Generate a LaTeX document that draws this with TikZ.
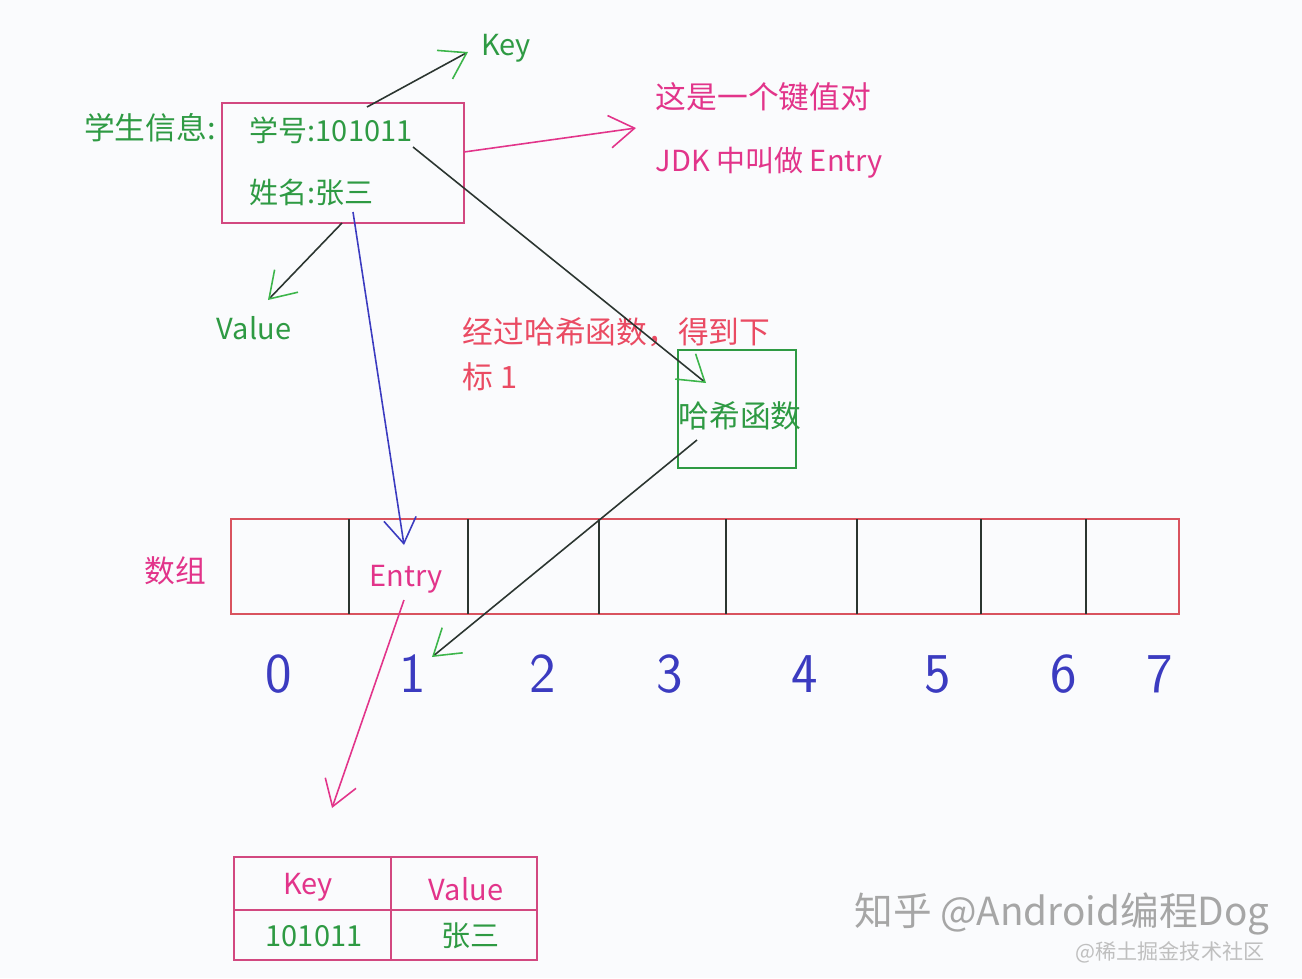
\documentclass[tikz,border=0pt]{standalone}
\usepackage{fontspec}
\setmainfont{Noto Sans CJK SC}
\usepackage{xcolor}
\usetikzlibrary{arrows.meta}

\definecolor{lbgreen}{HTML}{2E9A43}
\definecolor{lbpink}{HTML}{E2348A}
\definecolor{lbred}{HTML}{EA4B63}
\definecolor{lbline}{HTML}{2B3530}
\definecolor{lbblue}{HTML}{3B3BC0}
\definecolor{tipgreen}{HTML}{3CB54A}
\definecolor{boxpink}{HTML}{D24880}
\definecolor{arrred}{HTML}{D9535F}
\definecolor{paper}{HTML}{FAFBFD}

\begin{document}
\begin{tikzpicture}[x=0.02cm, y=-0.02cm, line width=0.9pt,
    txt/.style={draw=none, inner sep=0pt, font=\fontsize{16.5}{18}\selectfont},
    bigtxt/.style={draw=none, inner sep=0pt, font=\fontsize{17.5}{19}\selectfont},
    digit/.style={draw=none, inner sep=0pt, text=lbblue, font=\sffamily\fontsize{32}{32}\selectfont},
    frame/.style={draw=#1, inner sep=0pt},
    barb/.style={-{Straight Barb[length=5mm, width=6.5mm, color=#1]}},
    barb/.default=tipgreen]
             \fill[paper] (0,0) rectangle (1302,978);
             \useasboundingbox (0,0) rectangle (1302,978);

             % student record
             \node[frame=boxpink, minimum width=4.84cm, minimum height=2.4cm] (stu) at (343,163) {};
             \node[bigtxt, text=lbgreen] (stulabel) at (150,128) {学生信息:};
             \node[txt, text=lbgreen, anchor=west] (sid) at (249,130) {学号:101011};
             \node[txt, text=lbgreen, anchor=west] (sname) at (249,193) {姓名:张三};
             \node[txt, text=lbgreen] (key) at (506,48) {Key};
             \node[txt, text=lbgreen] (value) at (254,328) {Value};

             \node[bigtxt, text=lbpink, anchor=west] (pair) at (655,97) {这是一个键值对};
             \node[txt, text=lbpink, anchor=west] (jdk) at (655,163) {JDK 中叫做 Entry};

             \node[bigtxt, text=lbred, anchor=west] (hashtxt) at (462,332) {经过哈希函数，得到下};
             \node[bigtxt, text=lbred, anchor=west] (hashtxt2) at (462,377) {标 1};
             \node[frame=lbgreen, minimum width=2.36cm, minimum height=2.36cm] (hash) at (737,409) {};
             \node[bigtxt, text=lbgreen] (hashname) at (740,416) {哈希函数};

             % array
             \node[frame=arrred, minimum width=18.96cm, minimum height=1.9cm] (arr) at (705,566.5) {};
             \foreach \x in {349,468,599,726,857,981,1086}
                 \draw[lbline] (\x,519) -- (\x,614);
             \node[bigtxt, text=lbpink] (arrlabel) at (175,571) {数组};
             \node[txt, text=lbpink] (entry) at (406,579) {Entry};
             \foreach \d/\x in {0/279,1/413,2/543,3/670,4/805,5/938,6/1064,7/1160}
                 \node[digit] (idx\d) at (\x,674) {\d};

             % entry table
             \node[frame=boxpink, minimum width=6.06cm, minimum height=2.06cm] (kv) at (385.5,908.5) {};
             \draw[boxpink] (234,910) -- (537,910);
             \draw[boxpink] (391,857) -- (391,960);
             \node[txt, text=lbpink] (kvkey) at (308,887) {Key};
             \node[txt, text=lbpink] (kvval) at (466,889) {Value};
             \node[txt, text=lbgreen] (kvid) at (314,936) {101011};
             \node[txt, text=lbgreen] (kvname) at (470,936) {张三};

             \node[draw=none, inner sep=0pt, text=black!35, font=\fontsize{22}{24}\selectfont] (mark) at (1062,914) {知乎 @Android编程Dog};
             \node[draw=none, inner sep=0pt, text=black!25, font=\fontsize{12}{13}\selectfont] (mark2) at (1170,952) {@稀土掘金技术社区};

             % arrows
             \coordinate (keyfrom) at (367,107);
             \coordinate (keyto) at (468,52);
             \coordinate (valfrom) at (342,223);
             \coordinate (valto) at (268,300);
             \coordinate (pairfrom) at (464,152);
             \coordinate (pairto) at (636,128);
             \coordinate (hashfrom) at (413,147);
             \coordinate (hashto) at (706,383);
             \coordinate (outfrom) at (697,440);
             \coordinate (outto) at (432,657);
             \coordinate (putfrom) at (353,212);
             \coordinate (putto) at (404,545);
             \coordinate (entfrom) at (404,600);
             \coordinate (entto) at (332,808);

             \draw[lbline, barb] (keyfrom) -- (keyto);
             \draw[lbline, barb] (valfrom) -- (valto);
             \draw[lbpink, barb=lbpink] (pairfrom) -- (pairto);
             \draw[lbline, barb] (hashfrom) -- (hashto);
             \draw[lbline, barb] (outfrom) -- (outto);
             \draw[lbblue, barb=lbblue] (putfrom) -- (putto);
             \draw[lbpink, barb=lbpink] (entfrom) -- (entto);
\end{tikzpicture}
\end{document}
